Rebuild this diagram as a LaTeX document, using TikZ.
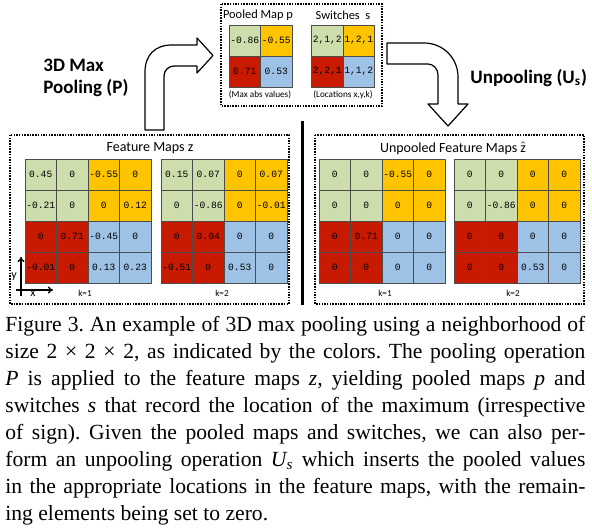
\documentclass[tikz,border=0pt]{standalone}
\usepackage{fontspec}
\setmainfont{Liberation Serif}
\newfontfamily\calibri{Carlito}
\newfontfamily\courier{Liberation Mono}
\usetikzlibrary{arrows.meta}

\definecolor{blk11}{RGB}{205,221,172}
\definecolor{blk12}{RGB}{255,196,0}
\definecolor{blk21}{RGB}{200,26,0}
\definecolor{blk22}{RGB}{157,194,230}

% one map: name, top-left x, top-left y, pooling block size, rows of values
\newcommand{\drawmap}[5]{%
  \foreach \row [count=\ri] in {#5} {
    \foreach \val [count=\ci] in \row {
      \pgfmathtruncatemacro{\br}{(\ri+#4-1)/#4}
      \pgfmathtruncatemacro{\bc}{(\ci+#4-1)/#4}
      \node[cell, fill=blk\br\bc] (#1-\ri-\ci) at ({#2+(\ci-0.5)*31.5},{#3+(\ri-0.5)*31}) {\val};
    }
  }
}

\begin{document}
\begin{tikzpicture}[x=0.5pt, y=-0.5pt,
  cell/.style={draw=black!70, line width=0.35pt, minimum width=15.75pt, minimum height=15.5pt, inner sep=0pt, font=\courier\fontsize{4.8}{5}\selectfont},
  box/.style={line width=0.75pt, dash pattern=on 0.75pt off 0.6pt},
  bigarrow/.style={draw=black, fill=white, line width=0.6pt, line join=round},
  title/.style={font=\calibri\fontsize{7}{8}\selectfont, inner sep=0pt},
  small/.style={font=\calibri\fontsize{4.6}{5}\selectfont, inner sep=0pt},
  op/.style={font=\calibri\bfseries\fontsize{9.5}{11}\selectfont, align=left, inner sep=0pt},
  axis/.style={-{To[length=2.5pt, width=3.5pt]}, line width=0.7pt}
]
\useasboundingbox (0,0) rectangle (592,528);

% pooled maps and switches
\draw[box] (221,4) rectangle (382,106);
\node[title, font=\calibri\fontsize{6.2}{7}\selectfont] (ptitle) at (258,15) {Pooled Map p};
\node[title, font=\calibri\fontsize{6.2}{7}\selectfont] (stitle) at (343,15) {Switches\ \ s};
\drawmap{p}{229}{25}{1}{{-0.86,-0.55},{0.71,0.53}}
\drawmap{s}{311.5}{25}{1}{{{2,1,2},{1,2,1}},{{2,2,1},{1,1,2}}}
\node[small] (pnote) at (260,95) {(Max abs values)};
\node[small] (snote) at (343,95) {(Locations x,y,k)};

% operations
\node[op, anchor=west] (pool) at (43,78) {3D Max\\Pooling (P)};
\node[op, anchor=west] (unpool) at (470,78) {Unpooling (U\textsubscript{s})};
\draw[bigarrow] (145,130) -- (145,72) .. controls (145,55) and (155,45) .. (172,45)
  -- (197,45) -- (197,38) -- (213,55.5) -- (197,73) -- (197,66) -- (174,66)
  .. controls (168.5,66) and (164,70.5) .. (164,76) -- (164,130) -- cycle;
\draw[bigarrow] (387,43) -- (424,43) .. controls (443,43) and (458,58) .. (458,77)
  -- (458,104) -- (468,104) -- (448,126) -- (428,104) -- (438,104) -- (438,75)
  .. controls (438,69) and (433.5,64) .. (428,64) -- (387,64) -- cycle;

% feature maps z
\draw[box] (10,135) rectangle (289,304);
\node[title] (ztitle) at (150,148) {Feature Maps z};
\drawmap{za}{25}{159}{2}{{0.45,0,-0.55,0},{-0.21,0,0,0.12},{0,0.71,-0.45,0},{-0.01,0,0.13,0.23}}
\drawmap{zb}{161}{159}{2}{{0.15,0.07,0,0.07},{0,-0.86,0,-0.01},{0,0.04,0,0},{-0.51,0,0.53,0}}
\node[small] (zka) at (85,293) {k=1};
\node[small] (zkb) at (222,293) {k=2};
\coordinate (ax) at (21,290);
\draw[axis] (21,296) -- (21,257);
\draw[axis] (16,290) -- (53,290);
\node[title, font=\calibri\fontsize{6}{7}\selectfont] (ylab) at (14,277) {y};
\node[title, font=\calibri\fontsize{6}{7}\selectfont] (xlab) at (33,294) {x};

\draw[line width=1.5pt] (302,121) -- (302,305);

% unpooled feature maps
\draw[box] (315,135) rectangle (584,304);
\node[title] (utitle) at (453,148) {Unpooled Feature Maps $\hat{\mbox{z}}$};
\drawmap{ua}{319}{159}{2}{{0,0,-0.55,0},{0,0,0,0},{0,0.71,0,0},{0,0,0,0}}
\drawmap{ub}{454}{159}{2}{{0,0,0,0},{0,-0.86,0,0},{0,0,0,0},{0,0,0.53,0}}
\node[small] (uka) at (385,293) {k=1};
\node[small] (ukb) at (513,293) {k=2};

% caption
\node[anchor=north west, inner sep=0pt, text width=290pt, align=justify,
  font=\fontsize{10.8}{13.5}\selectfont] (cap) at (5,316) {\hyphenpenalty=10000\frenchspacing
Figure 3. An example of 3D max pooling using a neighborhood of\linebreak
size 2 × 2 × 2, as indicated by the colors. The pooling operation\linebreak
\textit{P} is applied to the feature maps \textit{z}, yielding pooled maps \textit{p} and\linebreak
switches \textit{s} that record the location of the maximum (irrespective\linebreak
of sign). Given the pooled maps and switches, we can also per-\linebreak
form an unpooling operation \textit{U\textsubscript{s}} which inserts the pooled values\linebreak
in the appropriate locations in the feature maps, with the remain-\linebreak
ing elements being set to zero.};
\end{tikzpicture}
\end{document}
